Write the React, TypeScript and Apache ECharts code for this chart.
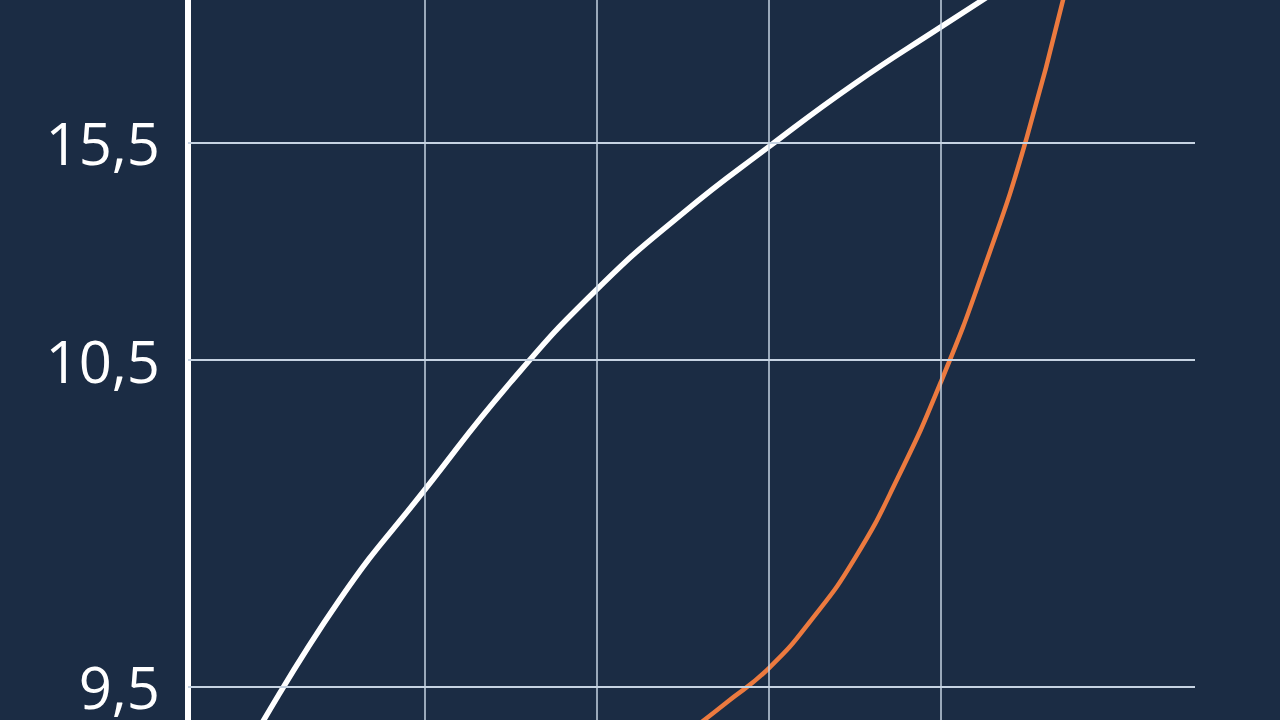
import React, { useEffect, useRef } from "react";
import * as echarts from "echarts";

// y axis is drawn in "position" units: the printed labels are not evenly spaced
const yTickPositions = [0, 3, 5];
const yTickLabels = ["9,5", "10,5", "15,5"];

// vertical grid lines (x units)
const xGridLines = [1, 2, 3, 4];

// white curve, [x, yPosition]
const whiteX = [0.0, 0.5, 1.0, 1.5, 2.0, 2.5, 3.0, 3.5, 4.0, 4.45];
const whiteY = [-0.48, 0.79, 1.81, 2.8, 3.65, 4.35, 4.96, 5.54, 6.06, 6.52];

// orange curve, [x, yPosition]
const orangeX = [2.45, 2.75, 3.0, 3.25, 3.5, 3.75, 4.0, 4.25, 4.5, 4.75];
const orangeY = [-0.52, -0.15, 0.17, 0.62, 1.18, 1.92, 2.8, 3.84, 5.05, 6.58];

const BG = "#1b2c44";
const GRID = "#c6d3e2";

const App = () => {
  const chartRef = useRef<HTMLDivElement>(null);

  useEffect(() => {
    if (!chartRef.current) return;
    const chart = echarts.init(chartRef.current, undefined, { renderer: "svg" });

    const option = {
      animation: false,
      backgroundColor: BG,
      grid: { left: 188, right: 85, top: 0, bottom: 0 },
      xAxis: {
        type: "value",
        min: -0.378,
        max: 5.477,
        axisLine: { show: false },
        axisTick: { show: false },
        axisLabel: { show: false },
        splitLine: { show: false },
      },
      yAxis: {
        type: "value",
        min: -0.5,
        max: 6.5,
        interval: 0.5,
        axisLine: { show: true, onZero: false, lineStyle: { color: "#ffffff", width: 6 } },
        axisTick: { show: false },
        splitLine: { show: false },
        axisLabel: {
          color: "#ffffff",
          fontSize: 58,
          lineHeight: 44,
          fontFamily: "Open Sans",
          margin: 28,
          formatter: (v: number) => {
            const i = yTickPositions.findIndex((p) => Math.abs(p - v) < 1e-6);
            return i >= 0 ? yTickLabels[i] : "";
          },
        },
      },
      series: [
        {
          type: "line",
          data: [],
          z: 1,
          silent: true,
          markLine: {
            silent: true,
            symbol: ["none", "none"],
            label: { show: false },
            lineStyle: { color: GRID, width: 1.5, type: "solid" },
            data: [
              ...yTickPositions.map((p) => ({ yAxis: p, lineStyle: { width: 2 } })),
              ...xGridLines.map((p) => ({ xAxis: p })),
            ],
          },
        },
        {
          name: "white",
          type: "line",
          z: 3,
          smooth: true,
          showSymbol: false,
          data: whiteX.map((x, i) => [x, whiteY[i]]),
          lineStyle: { color: "#ffffff", width: 5.5 },
        },
        {
          name: "orange",
          type: "line",
          z: 3,
          smooth: true,
          showSymbol: false,
          data: orangeX.map((x, i) => [x, orangeY[i]]),
          lineStyle: { color: "#ec7a3f", width: 4.5 },
        },
      ],
    };

    chart.setOption(option);
    return () => {
      chart.dispose();
    };
  }, []);

  return (
    <div
      style={{
        position: "fixed",
        left: 0,
        top: 0,
        width: 1280,
        height: 720,
        overflow: "hidden",
        background: BG,
      }}
    >
      <div
        ref={chartRef}
        style={{ position: "absolute", left: 0, top: -21.5, width: 1280, height: 762 }}
      />
    </div>
  );
};

export default App;
